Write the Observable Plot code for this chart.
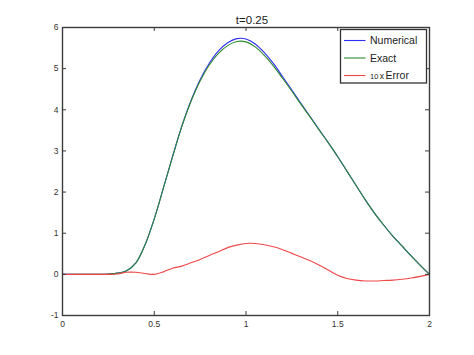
<!DOCTYPE html>
<html><head><meta charset="utf-8">
<script src="https://cdn.jsdelivr.net/npm/d3@7"></script>
<script src="https://cdn.jsdelivr.net/npm/@observablehq/plot@0.6"></script>
<style>body{margin:0;background:#fff;font-family:"Liberation Sans",Arial,sans-serif}</style>
</head><body><div id="chart"></div>
<script>
const xs        = [0,0.05,0.1,0.15,0.2,0.25,0.3,0.35,0.4,0.45,0.5,0.55,0.6,0.65,0.7,0.75,0.8,0.85,0.9,0.95,1.0,1.05,1.1,1.15,1.2,1.25,1.3,1.35,1.4,1.45,1.5,1.55,1.6,1.65,1.7,1.75,1.8,1.85,1.9,1.95,2.0];
const numerical = [0,0,0,0,0.002,0.01,0.03,0.09,0.28,0.72,1.35,2.1,2.87,3.6,4.22,4.73,5.13,5.43,5.63,5.73,5.72,5.6,5.39,5.12,4.8,4.48,4.15,3.83,3.51,3.19,2.86,2.51,2.16,1.81,1.49,1.2,0.93,0.69,0.45,0.22,0];
const exact     = [0,0,0,0,0.002,0.01,0.03,0.09,0.28,0.72,1.35,2.1,2.86,3.59,4.2,4.70,5.09,5.37,5.56,5.66,5.65,5.53,5.32,5.06,4.76,4.45,4.13,3.82,3.50,3.19,2.86,2.51,2.16,1.81,1.49,1.2,0.93,0.69,0.45,0.22,0];
const errorX10  = [0,0,0,0,0,0,0.01,0.05,0.05,0.02,0.0,0.06,0.15,0.2,0.28,0.36,0.46,0.55,0.65,0.71,0.75,0.75,0.72,0.67,0.6,0.51,0.42,0.33,0.22,0.1,-0.02,-0.1,-0.14,-0.16,-0.16,-0.15,-0.14,-0.12,-0.09,-0.05,0];
const xTicks = [0,0.5,1,1.5,2];
const yTicks = [-1,0,1,2,3,4,5,6];
const title = "t=0.25";
const seriesNames  = ["Numerical","Exact","Error"];
const seriesColors = ["#2e2ef2","#2e8b2e","#f04848"];

const W = 474, H = 355, mL = 62, mR = 45, mT = 27, mB = 40;
const pW = W - mL - mR, pH = H - mT - mB;
const seriesValues = [numerical, exact, errorX10];
const rows = [];
seriesNames.forEach((s, k) => xs.forEach((x, i) => rows.push({x, y: seriesValues[k][i], s})));
const frameColor = "#3c3c3c";
const font = "Liberation Sans, Arial, sans-serif";

const chart = Plot.plot({
  width: W, height: H,
  marginLeft: mL, marginRight: mR, marginTop: mT, marginBottom: mB,
  style: {fontFamily: font, background: "#fff", overflow: "visible"},
  x: {domain: [0, 2], label: null},
  y: {domain: [-1, 6], label: null},
  color: {domain: seriesNames, range: seriesColors},
  marks: [
    Plot.line(rows, {x: "x", y: "y", z: "s", stroke: "s", strokeWidth: 1.1, curve: "catmull-rom"}),
    Plot.tickX(xTicks, {x: d => d, insetTop: pH - 4, stroke: frameColor}),
    Plot.tickX(xTicks, {x: d => d, insetBottom: pH - 4, stroke: frameColor}),
    Plot.tickY(yTicks, {y: d => d, insetRight: pW - 4, stroke: frameColor}),
    Plot.tickY(yTicks, {y: d => d, insetLeft: pW - 4, stroke: frameColor}),
    Plot.frame({stroke: frameColor, strokeWidth: 1.4}),
    Plot.axisX(xTicks, {tickSize: 0, tickPadding: 5, fontSize: 8.5, fill: "#333", tickFormat: d => String(d), label: null}),
    Plot.axisY(yTicks, {tickSize: 0, tickPadding: 4, fontSize: 8.5, fill: "#333", tickFormat: d => String(d), label: null}),
    Plot.text([title], {frameAnchor: "top", dx: 6, dy: -12, fontSize: 11.5, fill: "#222"})
  ]
});

// Legend box inside top-right corner of the frame
const svg = d3.select(chart);
const lgX = mL + pW - 88.5, lgY = mT + 2.5, lgW = 86, lgH = 53.5;
const g = svg.append("g").attr("font-family", font).attr("text-anchor", "start");
g.append("rect").attr("x", lgX).attr("y", lgY).attr("width", lgW).attr("height", lgH)
  .attr("fill", "#fff").attr("stroke", "#333").attr("stroke-width", 1.3);
seriesNames.forEach((name, i) => {
  const cy = lgY + 11 + i * 17.5;
  g.append("line").attr("x1", lgX + 3.5).attr("x2", lgX + 25).attr("y1", cy).attr("y2", cy)
    .attr("stroke", seriesColors[i]).attr("stroke-width", 1.1);
  const t = g.append("text").attr("x", lgX + 29.5).attr("y", cy).attr("dy", "0.35em")
    .attr("text-anchor", "start").attr("fill", "#222").attr("font-size", 10.5);
  if (name === "Error") {
    t.append("tspan").attr("font-size", 7.5).text("10");
    t.append("tspan").attr("font-size", 8.5).attr("dx", 1.5).text("x");
    t.append("tspan").attr("dx", 1.5).text("Error");
  } else {
    t.text(name);
  }
});

document.getElementById("chart").appendChild(chart);
</script>
</body></html>
